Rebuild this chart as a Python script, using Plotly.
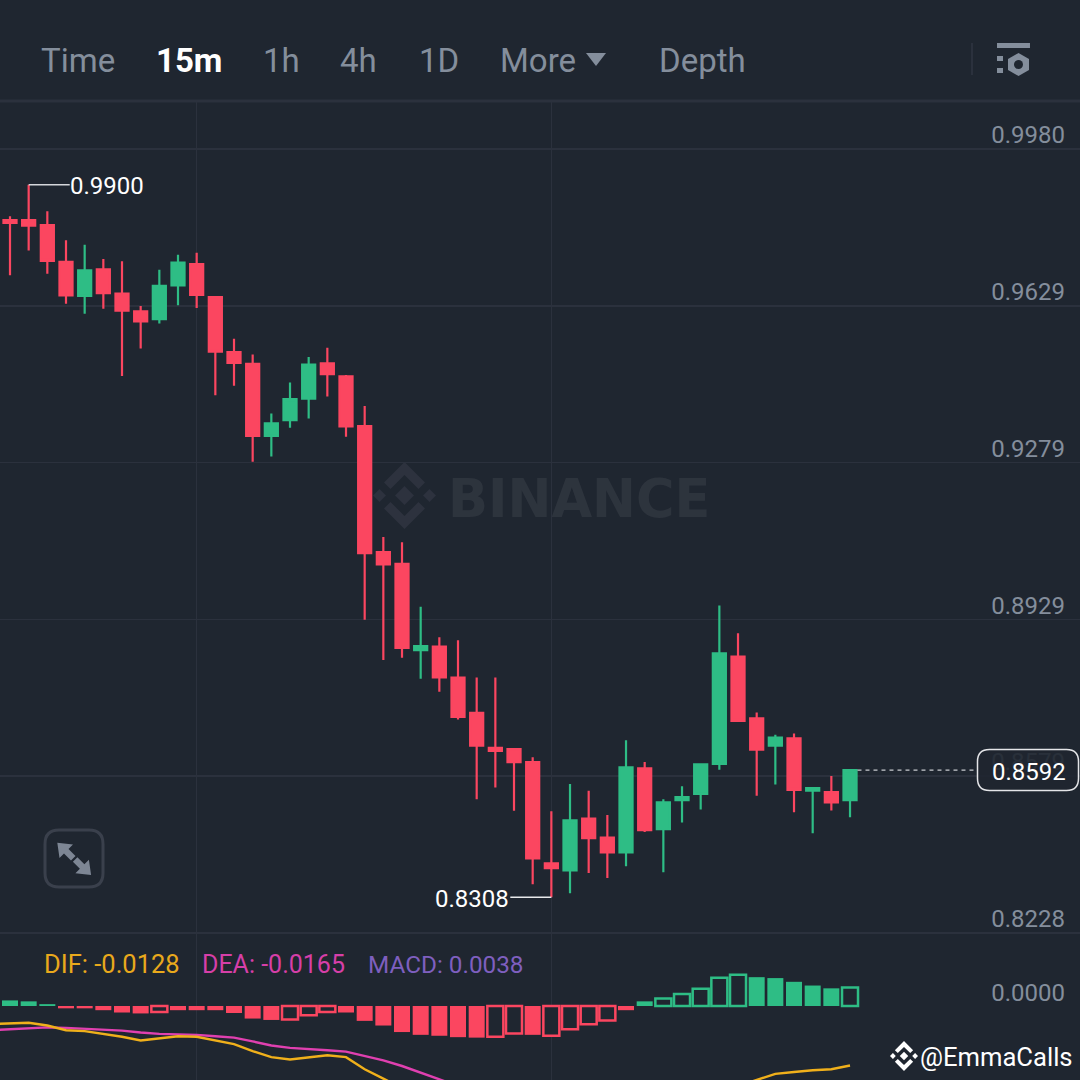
import plotly.graph_objects as go

# ---------- data ----------
candle_index = list(range(46))
open_ = [.9821,.9821,.9810,.9728,.9652,.9711,.9657,.9617,.9600,.9675,.9723,.9649,.9526,.9500,.9339,.9374,.9422,.9501,.9472,.9361,.9079,.9053,.8860,.8868,.8799,.8720,.8642,.8639,.8610,.8384,.8368,.8484,.8441,.8408,.8596,.8460,.8525,.8539,.8606,.8846,.8708,.8647,.8663,.8546,.8543,.8525]
high_ = [.9830,.9900,.9841,.9776,.9766,.9734,.9729,.9629,.9710,.9744,.9748,.9649,.9556,.9521,.9389,.9458,.9515,.9536,.9475,.9406,.9113,.9101,.8957,.8889,.8882,.8799,.8799,.8639,.8621,.8500,.8561,.8546,.8492,.8659,.8610,.8527,.8556,.8605,.8960,.8898,.8721,.8671,.8674,.8552,.8579,.8594]
low_ = [.9698,.9753,.9701,.9634,.9612,.9623,.9473,.9534,.9590,.9631,.9625,.9430,.9451,.9281,.9293,.9357,.9378,.9427,.9337,.8928,.8838,.8843,.8796,.8767,.8705,.8527,.8553,.8501,.8337,.8308,.8317,.8362,.8351,.8377,.8454,.8364,.8475,.8504,.8593,.8702,.8535,.8560,.8498,.8451,.8502,.8487]
close_ = [.9815,.9809,.9730,.9653,.9709,.9658,.9619,.9595,.9674,.9726,.9654,.9527,.9502,.9339,.9367,.9421,.9498,.9477,.9360,.9077,.9052,.8865,.8869,.8799,.8711,.8647,.8635,.8610,.8395,.8373,.8480,.8440,.8408,.8598,.8458,.8520,.8532,.8605,.8853,.8702,.8638,.8665,.8548,.8552,.8520,.8592]

macd_hist = [.0012,.0010,.0004,-.0005,-.0005,-.0009,-.0014,-.0016,-.0013,-.0009,-.0009,-.0009,-.0015,-.0027,-.0030,-.0029,-.0020,-.0013,-.0014,-.0032,-.0042,-.0056,-.0062,-.0064,-.0067,-.0068,-.0066,-.0059,-.0062,-.0064,-.0050,-.0039,-.0031,-.0009,.0010,.0016,.0026,.0037,.0061,.0067,.0062,.0060,.0052,.0044,.0038,.0040]
macd_hollow = [0,0,0,0,0,0,0,0,1,0,0,0,0,0,0,1,1,1,0,0,0,0,0,0,0,0,1,1,0,1,1,1,1,0,0,1,1,1,1,1,0,0,0,0,0,1]

line_index = list(range(-1, 46))
dif = [-.0039,-.0037,-.0036,-.0042,-.0052,-.0054,-.0060,-.0066,-.0074,-.0070,-.0065,-.0066,-.0074,-.0082,-.0097,-.0110,-.0115,-.0110,-.0106,-.0110,-.0136,-.0156,-.0177,
       None,None,None,None,None,None,None,None,None,None,None,None,None,None,None,None,None,-.0172,-.0159,-.0146,-.0142,-.0138,-.0136,-.0128]
dea = [-.0052,-.0050,-.0047,-.0046,-.0047,-.0049,-.0050,-.0053,-.0057,-.0060,-.0061,-.0062,-.0065,-.0068,-.0076,-.0085,-.0090,-.0092,-.0095,-.0098,-.0107,-.0117,-.0129,-.0143,-.0158,-.0172,
       None,None,None,None,None,None,None,None,None,None,None,None,None,None,None,None,None,None,None,None,-.0165]

price_ticks = [.9980,.9629,.9279,.8929,.8579,.8228]
price_tick_labels = ["0.9980","0.9629","0.9279","0.8929","0.8579","0.8228"]
macd_ticks = [0.0]
macd_tick_labels = ["0.0000"]
session_ticks = [10, 29]
menu_items = ["Time","15m","1h","4h","1D","More","Depth"]
max_label = "0.9900"; max_value = .9900; max_at = 1
min_label = "0.8308"; min_value = .8308; min_at = 29
last_label = "0.8592"; last_value = .8592
macd_legend = ["DIF: -0.0128","DEA: -0.0165","MACD: 0.0038"]

# ---------- styling ----------
BG = "#1F2630"; GRID = "#2B313D"; GREY = "#848E9C"
RED = "#FB4660"; GREEN = "#2EBD85"
FONT = "Roboto"

def px(x): return x/1080
def py(y): return 1-y/1080
def poly(points, fill, line=None, lw=0, layer="above"):
    d = "M" + " L".join(f"{px(x):.5f},{py(y):.5f}" for x, y in points) + " Z"
    return dict(type="path", xref="paper", yref="paper", path=d, fillcolor=fill,
                line=dict(color=line or fill, width=lw), layer=layer)
def rrect(x0, y0, x1, y1, r, fill, line, lw, layer="above"):
    X = px; Y = py
    d = (f"M{X(x0+r)},{Y(y0)} L{X(x1-r)},{Y(y0)} Q{X(x1)},{Y(y0)} {X(x1)},{Y(y0+r)} "
         f"L{X(x1)},{Y(y1-r)} Q{X(x1)},{Y(y1)} {X(x1-r)},{Y(y1)} "
         f"L{X(x0+r)},{Y(y1)} Q{X(x0)},{Y(y1)} {X(x0)},{Y(y1-r)} "
         f"L{X(x0)},{Y(y0+r)} Q{X(x0)},{Y(y0)} {X(x0+r)},{Y(y0)} Z")
    return dict(type="path", xref="paper", yref="paper", path=d, fillcolor=fill,
                line=dict(color=line, width=lw), layer=layer)
def logo(cx, cy, s, fill, layer):
    """Binance mark, s = half size in px"""
    u = s/31.5
    def P(pts): return poly([(cx+a*u, cy+b*u) for a, b in pts], fill, layer=layer)
    return [
        P([(-31.5,0),(-25,-6.5),(-18.5,0),(-25,6.5)]),
        P([(31.5,0),(25,-6.5),(18.5,0),(25,6.5)]),
        P([(0,-9.5),(9.5,0),(0,9.5),(-9.5,0)]),
        P([(0,-33.5),(20.5,-13),(14,-6.5),(0,-20.5),(-14,-6.5),(-20.5,-13)]),
        P([(0,33.5),(20.5,13),(14,6.5),(0,20.5),(-14,6.5),(-20.5,13)]),
    ]

fig = go.Figure()
fig.add_trace(go.Candlestick(
    x=candle_index, open=open_, high=high_, low=low_, close=close_,
    increasing=dict(line=dict(color=GREEN, width=2.2), fillcolor=GREEN),
    decreasing=dict(line=dict(color=RED, width=2.2), fillcolor=RED),
    whiskerwidth=0, hoverinfo="skip", yaxis="y", showlegend=False))

hist_colors = [GREEN if v >= 0 else RED for v in macd_hist]
fig.add_trace(go.Bar(
    x=candle_index, y=macd_hist, yaxis="y2", width=0.857, showlegend=False, hoverinfo="skip",
    marker=dict(color=[BG if h else c for h, c in zip(macd_hollow, hist_colors)],
                line=dict(color=hist_colors, width=[2.5 if h else 0 for h in macd_hollow]))))
fig.add_trace(go.Scatter(x=line_index, y=dea, yaxis="y2", mode="lines", showlegend=False, hoverinfo="skip",
                         line=dict(color="#E040B0", width=2.4)))
fig.add_trace(go.Scatter(x=line_index, y=dif, yaxis="y2", mode="lines", showlegend=False, hoverinfo="skip",
                         line=dict(color="#F0B01B", width=2.4)))

shapes = []
# header cover and separators
shapes.append(dict(type="rect", xref="paper", yref="paper", x0=0, x1=1, y0=py(100), y1=1,
                   fillcolor=BG, line=dict(width=0), layer="above"))
shapes.append(dict(type="line", xref="paper", yref="paper", x0=0, x1=1, y0=py(101), y1=py(101),
                   line=dict(color=GRID, width=3), layer="above"))
shapes.append(dict(type="line", xref="paper", yref="paper", x0=px(972), x1=px(972), y0=py(43), y1=py(75),
                   line=dict(color=GRID, width=2), layer="above"))
# "More" triangle
shapes.append(poly([(586,53),(606,53),(596,66)], GREY))
# settings icon
shapes.append(poly([(997,43),(1030,43),(1030,48),(997,48)], GREY))
shapes.append(poly([(997,56),(1003,56),(1003,61),(997,61)], GREY))
shapes.append(poly([(997,68),(1003,68),(1003,73),(997,73)], GREY))
shapes.append(poly([(1018.5,53),(1029,59),(1029,70),(1018.5,76),(1008,70),(1008,59)], GREY))
shapes.append(dict(type="circle", xref="paper", yref="paper", x0=px(1014), x1=px(1023), y0=py(69), y1=py(60),
                   fillcolor=BG, line=dict(width=0), layer="above"))
# watermark logo
shapes += logo(404.5, 495.5, 31.5, "#2D323E", "below")
# extreme leaders
shapes.append(dict(type="line", xref="x", yref="y", x0=max_at, x1=max_at+2.2, y0=max_value, y1=max_value,
                   line=dict(color="#D5D7DB", width=1.5), layer="above"))
shapes.append(dict(type="line", xref="x", yref="y", x0=min_at, x1=min_at-2.2, y0=min_value, y1=min_value,
                   line=dict(color="#E8E9EB", width=1.5), layer="above"))
# last price dashes and tag
shapes.append(dict(type="line", xref="x", yref="y", x0=45.4, x1=51.8, y0=last_value, y1=last_value,
                   line=dict(color="#C9CBD0", width=1.3, dash="4px,4px"), layer="above"))
shapes.append(rrect(977.5, 749.5, 1078.5, 790.5, 12, "rgba(31,38,48,0.90)", "#E4E5E8", 1.5))
# expand button
shapes.append(rrect(45, 830, 103, 887, 14, "rgba(0,0,0,0)", "#3A404C", 3))
shapes.append(poly([(57.3,842.7),(73,844.5),(68.5,849),(75.5,856),(71,860.5),(64,853.5),(59.5,858)], "#7D8694"))
shapes.append(poly([(91.1,875.1),(75.4,873.3),(79.9,868.8),(72.9,861.8),(77.4,857.3),(84.4,864.3),(88.9,859.8)], "#7D8694"))
# author mark
shapes += logo(904, 1056, 14, "#FFFFFF", "above")

def note(text, x, y, size=24, color="#FFFFFF", anchor="left", weight=None, family=FONT):
    f = dict(family=family, size=size, color=color)
    if weight: f["weight"] = weight
    return dict(text=text, xref="paper", yref="paper", x=px(x), y=py(y), xanchor=anchor, yanchor="middle",
                showarrow=False, font=f, borderpad=0)

menu_x = [40, 155, 262, 339, 418, 499, 658]
ann = []
for t, x in zip(menu_items, menu_x):
    active = t == "15m"
    ann.append(note(t, x, 61, size=33, color="#FFFFFF" if active else GREY, weight=700 if active else None))
ann.append(note("BINANCE", 447, 498, size=52.5, color="rgba(255,255,255,0.065)", weight=700, family="DejaVu Sans"))
ann.append(note(macd_legend[0], 43, 964, size=25.5, color="#E9A91C"))
ann.append(note(macd_legend[1], 201, 964, size=25, color="#D63FA8"))
ann.append(note(macd_legend[2], 367, 964, size=24.3, color="#7E5FBF"))
ann.append(note("@EmmaCalls", 919, 1057, size=25.6, color="#FFFFFF"))
ann.append(note(last_label, 1028.5, 772, size=24, anchor="center"))
ann.append(dict(text=max_label, xref="x", yref="y", x=max_at, y=max_value, xshift=40, yshift=-1, xanchor="left",
                yanchor="middle", showarrow=False, font=dict(family=FONT, size=24, color="#FFFFFF"), borderpad=0))
ann.append(dict(text=min_label, xref="x", yref="y", x=min_at, y=min_value, xshift=-41, yshift=-2, xanchor="right",
                yanchor="middle", showarrow=False, font=dict(family=FONT, size=24, color="#FFFFFF"), borderpad=0))

common_y = dict(side="right", ticklabelposition="inside", ticklabelstandoff=12,
                tickmode="array", ticks="", zeroline=False, showline=False, fixedrange=True,
                tickfont=dict(family=FONT, size=24, color=GREY), ticklabeloverflow="allow")
fig.update_layout(
    width=1080, height=1080, margin=dict(l=0, r=0, t=0, b=0),
    paper_bgcolor=BG, plot_bgcolor=BG, showlegend=False, dragmode=False,
    boxgap=0.0, barmode="overlay", hovermode=False,
    xaxis=dict(range=[-0.5357, 57.32], rangeslider=dict(visible=False), tickmode="array",
               tickvals=session_ticks, ticks="", showticklabels=False, showgrid=True, gridcolor=GRID,
               gridwidth=1.2, zeroline=False, showline=False, fixedrange=True),
    yaxis=dict(domain=[0, 1], range=[0.78996, 1.0313], tickvals=price_ticks, ticktext=price_tick_labels,
               ticklabelshift=-14, showgrid=True, gridcolor=GRID, gridwidth=1.2, **common_y),
    yaxis2=dict(overlaying="y", range=[-0.01591, 0.21629], tickvals=macd_ticks, ticktext=macd_tick_labels,
                ticklabelshift=-13, showgrid=False, **common_y),
    shapes=shapes, annotations=ann,
)
fig.write_html("out.html", config=dict(displayModeBar=False, staticPlot=True),
               post_script="document.body.style.margin='0';document.body.style.overflow='hidden';")
